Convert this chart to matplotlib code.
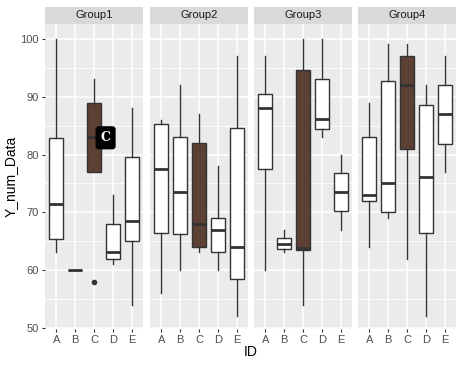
import matplotlib.pyplot as plt
import numpy as np

plt.rcParams['font.family'] = ['Liberation Sans', 'DejaVu Sans']

groups = ["Group1", "Group2", "Group3", "Group4"]
ids = ["A", "B", "C", "D", "E"]

# five-number summaries per group, in order A..E
whislo = [[63.1, 60.0, 77.0, 61.0, 54.0],
          [56.0, 60.0, 63.2, 60.0, 52.0],
          [60.0, 63.1, 54.0, 83.1, 67.0],
          [64.0, 69.1, 62.0, 52.0, 77.0]]
q1 = [[65.3, 60.0, 77.0, 62.0, 65.0],
      [66.5, 66.2, 64.0, 63.1, 58.5],
      [77.5, 63.7, 63.5, 84.5, 70.3],
      [72.0, 70.0, 81.0, 66.5, 81.9]]
med = [[71.5, 60.0, 83.1, 63.1, 68.5],
       [77.5, 73.5, 68.0, 67.0, 64.0],
       [88.0, 64.6, 63.9, 86.1, 73.5],
       [73.0, 75.0, 92.0, 76.1, 87.0]]
q3 = [[82.8, 60.0, 89.0, 68.0, 79.5],
      [85.3, 83.1, 82.0, 69.0, 84.6],
      [90.5, 65.5, 94.6, 93.1, 76.8],
      [83.1, 92.8, 97.1, 88.6, 92.0]]
whishi = [[100.0, 60.0, 93.0, 73.0, 88.0],
          [86.0, 92.0, 87.0, 78.0, 97.1],
          [97.1, 67.0, 100.0, 100.0, 80.0],
          [89.0, 99.1, 99.1, 92.0, 97.1]]
fliers = {(0, 2): [58.0]}
highlight = "C"
label_y = 82.9

BG = "#EBEBEB"
STRIP = "#D9D9D9"
BROWN = "#5C4033"
LINE = "#333333"
TXT = "#4D4D4D"

fig = plt.figure(figsize=(4.74, 3.66), dpi=100)
W, H = 474, 366
panel_left = [45, 150, 254, 358]
pw = 98
ptop, pbot, stop = 24, 329, 7

for g, name in enumerate(groups):
    ax = fig.add_axes([panel_left[g] / W, 1 - pbot / H, pw / W, (pbot - ptop) / H])
    ax.set_facecolor(BG)
    for s in ax.spines.values():
        s.set_visible(False)
    ax.set_xlim(0.4, 5.6)
    ax.set_ylim(49.8, 102.6)
    ax.set_yticks([50, 60, 70, 80, 90, 100])
    ax.set_yticks([55, 65, 75, 85, 95], minor=True)
    ax.grid(True, which="major", color="white", linewidth=1.1)
    ax.grid(True, which="minor", axis="y", color="white", linewidth=0.55)
    ax.set_axisbelow(True)

    stats = []
    for i, lab in enumerate(ids):
        stats.append(dict(whislo=whislo[g][i], q1=q1[g][i], med=med[g][i], q3=q3[g][i],
                          whishi=whishi[g][i], fliers=fliers.get((g, i), []), label=lab))
    bp = ax.bxp(stats, positions=range(1, 6), widths=0.75, patch_artist=True,
                showcaps=False,
                boxprops=dict(edgecolor=LINE, linewidth=1.0),
                whiskerprops=dict(color=LINE, linewidth=1.0),
                medianprops=dict(color=LINE, linewidth=2.0),
                flierprops=dict(marker="o", markersize=3, markerfacecolor=LINE,
                                markeredgecolor=LINE))
    for i, box in enumerate(bp["boxes"]):
        box.set_facecolor(BROWN if ids[i] == highlight else "white")
    ax.set_xticks(range(1, 6))
    ax.set_xticklabels(ids)
    ax.tick_params(axis="both", which="major", length=2.5, width=0.8, color="#333333",
                   labelsize=8, labelcolor=TXT, pad=2)
    ax.tick_params(axis="y", which="minor", length=0)
    if g > 0:
        ax.tick_params(axis="y", which="major", length=0, labelleft=False)

    if g == 0:
        ax.text(3.35, label_y, highlight, ha="left", va="center", color="white",
                fontsize=9, fontweight="bold", family="DejaVu Serif",
                bbox=dict(boxstyle="round,pad=0.35,rounding_size=0.2", facecolor="black",
                          edgecolor="black"))

    sax = fig.add_axes([panel_left[g] / W, 1 - ptop / H, pw / W, (ptop - stop) / H])
    sax.set_facecolor(STRIP)
    sax.set_xticks([])
    sax.set_yticks([])
    for s in sax.spines.values():
        s.set_visible(False)
    sax.text(0.5, 0.5, name, ha="center", va="center", fontsize=8, color="#1A1A1A",
             transform=sax.transAxes)

fig.text(251 / W, 1 - 352 / H, "ID", ha="center", va="center", fontsize=10, color="black")
fig.text(11 / W, 1 - 176 / H, "Y_num_Data", ha="center", va="center", fontsize=10,
         rotation=90, color="black")

fig.savefig("out.png", dpi=100, facecolor="white")
